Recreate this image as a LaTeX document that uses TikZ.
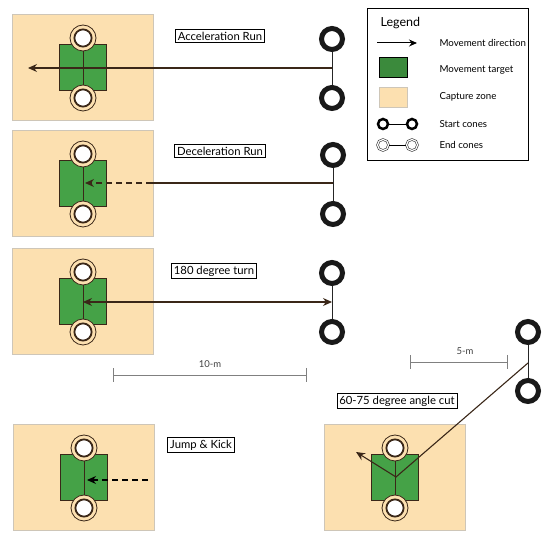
\documentclass[tikz,border=0pt]{standalone}
\usepackage{fontspec}
\setmainfont{Lato}
\usetikzlibrary{positioning,arrows.meta}
\usepackage{xcolor}

\definecolor{zonefill}{HTML}{FCE0B0}
\definecolor{zoneedge}{HTML}{CEC6B8}
\definecolor{targetfill}{HTML}{45A247}
\definecolor{darkbrown}{HTML}{3A2718}
\definecolor{scalegray}{HTML}{808080}

\begin{document}
\begin{tikzpicture}[x=1pt, y=-1pt,
  zone/.style={rectangle, fill=zonefill, draw=zoneedge, line width=1pt,
    minimum width=141pt, minimum height=106pt},
  target/.style={rectangle, fill=targetfill, draw=darkbrown, line width=1pt,
    minimum width=47pt, minimum height=46pt},
  startcone/.style={circle, draw=black!90, line width=5pt, fill=white,
    minimum size=21pt, inner sep=0pt},
  endcone/.style={circle, draw=darkbrown, line width=0.8pt, fill=zonefill,
    minimum size=26pt, inner sep=0pt,
    path picture={\draw[darkbrown, line width=1.8pt, fill=white]
      (path picture bounding box.center) circle (8.6pt);}},
  runlabel/.style={rectangle, draw, line width=0.6pt, inner sep=2.5pt, font=\fontsize{11.3}{13}\selectfont},
  legtext/.style={anchor=west, font=\fontsize{9.7}{11}\selectfont},
  move/.style={darkbrown, line width=1.1pt, -{Stealth[length=9pt, width=8pt]}},
  scalebar/.style={scalegray, line width=0.8pt, {Bar[width=14pt]}-{Bar[width=14pt]}},
]
  \useasboundingbox (0,0) rectangle (550,537);

  % capture zones, targets and end cones
  \foreach \n/\x/\y in {acc/83/68, dec/83/184, turn/83/302, jump/84/478, cut/395/478} {
    \node[zone] (\n-zone) at (\x,\y) {};
    \node[target] (\n-tgt) at (\x,\y) {};
    \draw[darkbrown, line width=0.9pt] (\n-tgt.north) -- (\n-tgt.south);
    \node[endcone] (\n-top) at (\x,\y-30) {};
    \node[endcone] (\n-bot) at (\x,\y+30) {};
  }

  % start cones
  \foreach \n/\x/\y/\j in {acc/332/39/68, dec/333/155/183, turn/332/273/302, cut/528/332/363} {
    \node[startcone] (\n-s1) at (\x,\y) {};
    \node[startcone] (\n-s2) at (\x,\y+59) {};
    \draw[black!85, line width=1pt] (\n-s1) -- (\n-s2);
    \coordinate (\n-j) at (\x,\j);
  }

  % runs
  \coordinate (acc-end) at (28,68);
  \draw[move] (acc-j) -- (acc-end);

  \coordinate (dec-mid) at (152,183);
  \coordinate (dec-end) at (85,183);
  \draw[darkbrown, line width=1.1pt] (dec-j) -- (dec-mid);
  \draw[move, dash pattern=on 6pt off 4pt] (dec-mid) -- (dec-end);

  \coordinate (turn-end) at (83,302);
  \draw[move, {Stealth[length=9pt, width=8pt]}-{Stealth[length=9pt, width=8pt]}] (turn-end) -- (turn-j);

  \coordinate (jump-start) at (148,480);
  \coordinate (jump-end) at (87,480);
  \draw[move, black, dash pattern=on 6pt off 4pt] (jump-start) -- (jump-end);

  \coordinate (cut-v) at (396,477);
  \coordinate (cut-end) at (356,452);
  \draw[move] (cut-j) -- (cut-v) -- (cut-end);

  % run labels
  \node[runlabel] (acc-lbl)  at (220,36)  {Acceleration Run};
  \node[runlabel] (dec-lbl)  at (220,151) {Deceleration Run};
  \node[runlabel] (turn-lbl) at (214,271) {180 degree turn};
  \node[runlabel] (jump-lbl) at (201,445) {Jump \& Kick};
  \node[runlabel] (cut-lbl)  at (397,401) {60-75 degree angle cut};

  % distances
  \coordinate (ten-l) at (113,375);
  \coordinate (ten-r) at (307,375);
  \draw[scalebar] (ten-l) -- node[above=4pt, text=black!75, font=\fontsize{9.5}{11}\selectfont] (ten-lbl) {10-m} (ten-r);
  \coordinate (five-l) at (410,362);
  \coordinate (five-r) at (508,362);
  \draw[scalebar] (five-l) -- node[above=4pt, text=black!75, font=\fontsize{9.5}{11}\selectfont, xshift=6pt] (five-lbl) {5-m} (five-r);

  % legend
  \node[draw, line width=0.8pt, minimum width=161pt, minimum height=152pt] (legend) at (447.5,84) {};
  \node[anchor=west, font=\fontsize{12.5}{14}\selectfont] (leg-title) at (377,23) {Legend};
  \coordinate (leg-a1) at (377,43);
  \coordinate (leg-a2) at (417,43);
  \draw[black, line width=1pt, -{Stealth[length=8pt, width=7pt]}] (leg-a1) -- (leg-a2);
  \node[legtext] (leg-move) at (436,43) {Movement direction};
  \node[rectangle, fill=targetfill!85!black, draw=black, line width=0.8pt,
    minimum width=28pt, minimum height=20pt] (leg-tgt) at (393,67) {};
  \node[legtext] (leg-target) at (436,70) {Movement target};
  \node[rectangle, fill=zonefill, draw=zoneedge, line width=0.8pt,
    minimum width=28pt, minimum height=20pt] (leg-zone) at (393,97) {};
  \node[legtext] (leg-capture) at (436,97) {Capture zone};
  \node[circle, draw=black, line width=2.5pt, fill=white, minimum size=10pt, inner sep=0pt] (leg-s1) at (383,124) {};
  \node[circle, draw=black, line width=2.5pt, fill=white, minimum size=10pt, inner sep=0pt] (leg-s2) at (412,124) {};
  \draw[black, line width=0.8pt] (leg-s1) -- (leg-s2);
  \node[legtext] (leg-start) at (436,124) {Start cones};
  \node[circle, draw=black!80, line width=0.6pt, double=white, double distance=1.2pt, fill=white,
    minimum size=11pt, inner sep=0pt] (leg-e1) at (383,145) {};
  \node[circle, draw=black!80, line width=0.6pt, double=white, double distance=1.2pt, fill=white,
    minimum size=11pt, inner sep=0pt] (leg-e2) at (412,145) {};
  \draw[black, line width=0.8pt] (leg-e1) -- (leg-e2);
  \node[legtext] (leg-end) at (436,145) {End cones};
\end{tikzpicture}
\end{document}
